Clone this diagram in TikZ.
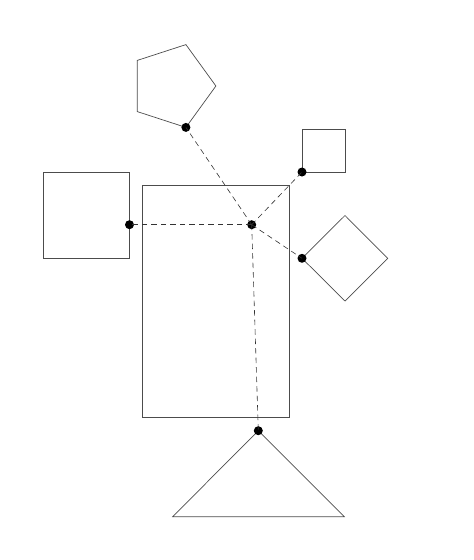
\documentclass[tikz,border=0pt]{standalone}
\usetikzlibrary{shapes.geometric}
\begin{document}
\begin{tikzpicture}[x=1pt,y=-1pt,
  shapeline/.style={draw=black!70,line width=0.7pt},
  dashline/.style={draw=black!80,line width=0.6pt,dash pattern=on 5.5pt off 4pt},
  dotmark/.style={circle,fill=black,inner sep=0pt,minimum size=9pt}]
\useasboundingbox (0,0) rectangle (474,560);
% pentagon
\draw[shapeline] (215.9,86) -- (185.9,44.6) -- (137.3,60.4) -- (137.3,111.6) -- (185.9,127.4) -- cycle;
% small square
\draw[shapeline] (302,129) rectangle (345,172);
% left square
\draw[shapeline] (43,172) rectangle (129.5,258.5);
% main rectangle
\draw[shapeline] (142.3,185) rectangle (289,417.5);
% diamond
\draw[shapeline] (302,258.3) -- (345,215.5) -- (387.7,258.3) -- (345,301) -- cycle;
% triangle
\draw[shapeline] (258.3,430.7) -- (344.3,516.7) -- (172.7,516.7) -- cycle;
% dots
\node[dotmark] (c) at (251.7,224.7) {};
\node[dotmark] (p) at (185.9,127.4) {};
\node[dotmark] (s) at (302,172) {};
\node[dotmark] (l) at (129.5,224.7) {};
\node[dotmark] (d) at (302,258.3) {};
\node[dotmark] (t) at (258.3,430.7) {};
% dashed connectors
\draw[dashline] (c.center) -- (p.center);
\draw[dashline] (c.center) -- (s.center);
\draw[dashline] (c.center) -- (l.center);
\draw[dashline] (c.center) -- (d.center);
\draw[dashline] (c.center) -- (t.center);
\end{tikzpicture}
\end{document}
